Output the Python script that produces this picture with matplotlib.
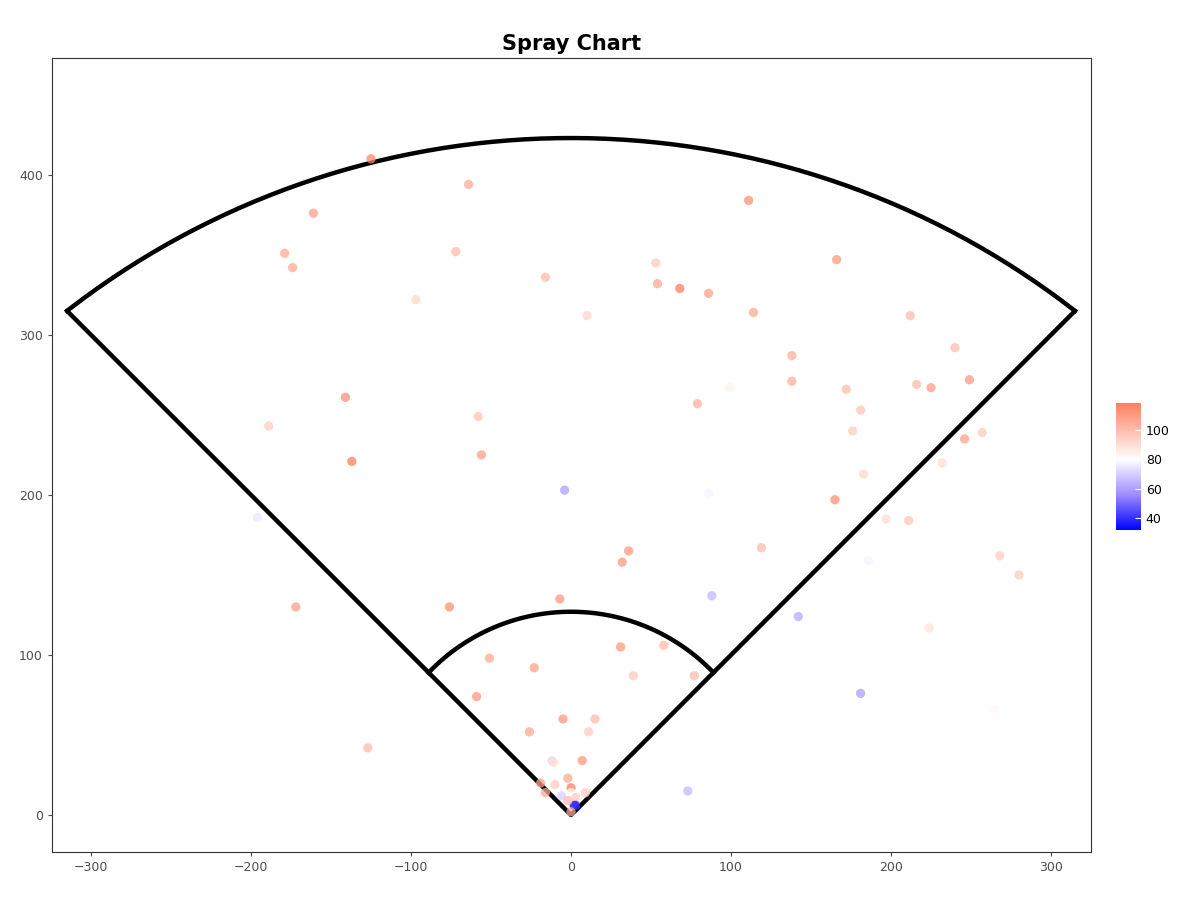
import numpy as np
import matplotlib.pyplot as plt
from matplotlib.colors import LinearSegmentedColormap, Normalize

# hit coordinates (ft) and exit velocity
hc_x = [-125, -64, -161, -179, -174, -72, -97, -16, 10, 53, 54, 68, 86, 111, 166, 114,
        212, 240, 138, 138, 216, 225, 249, 172, 99, 79, 181, 176, 246, 257, 183, 232,
        -141, -189, -58, -56, -137, -4, 86, -196, 165, 197, 211, 36, 32, 119, 268, 280,
        186, -7, -172, -76, 88, 142, 224, -51, 31, 58, -23, 39, 77, 181, -59, -127,
        -26, -5, 15, 11, 265, 7, 73,
        -12, -11, -19, -10, -16, -2, 0, -6, 0, 3, 9, 2, 3, -2, 0]
hc_y = [410, 394, 376, 351, 342, 352, 322, 336, 312, 345, 332, 329, 326, 384, 347, 314,
        312, 292, 287, 271, 269, 267, 272, 266, 267, 257, 253, 240, 235, 239, 213, 220,
        261, 243, 249, 225, 221, 203, 201, 186, 197, 185, 184, 165, 158, 167, 162, 150,
        159, 135, 130, 130, 137, 124, 117, 98, 105, 106, 92, 87, 87, 76, 74, 42,
        52, 60, 60, 52, 66, 34, 15,
        34, 33, 20, 19, 14, 23, 17, 12, 14, 11, 14, 6, 6, 9, 2]
launch_speed = [115, 105, 108, 105, 105, 100, 92, 100, 92, 95, 105, 118, 108, 112, 110, 105,
                100, 100, 103, 103, 100, 108, 110, 100, 84, 103, 97, 95, 108, 95, 92, 90,
                112, 95, 97, 108, 118, 60, 78, 75, 112, 90, 97, 110, 110, 100, 95, 95,
                78, 110, 108, 112, 65, 62, 88, 105, 110, 100, 108, 95, 100, 60, 110, 100,
                105, 110, 100, 95, 82, 110, 65,
                72, 90, 108, 95, 105, 105, 118, 70, 80, 95, 95, 35, 40, 100, 105]

vmin, vmid, vmax = 32, 80, 118
m = (vmid - vmin) / (vmax - vmin)
cmap = LinearSegmentedColormap.from_list(
    "ev", [(0, "#0000FF"), (m * 0.5, "#9F8CFF"), (m, "#FFFFFF"), (1, "#FF7F5F")])
norm = Normalize(vmin=vmin, vmax=vmax)

fig = plt.figure(figsize=(12, 8.97), dpi=100)
ax = fig.add_axes([52 / 1200, 1 - 852 / 897, 1039 / 1200, 794 / 897])

# field outline
ax.plot([-315, 0, 315], [315, 0, 315], color="black", lw=3.2, solid_capstyle="round")
c_out, r_out = -90.4, np.hypot(315, 315 + 90.4)
a0 = np.arctan2(315 - c_out, 315)
t = np.linspace(a0, np.pi - a0, 200)
ax.plot(r_out * np.cos(t), c_out + r_out * np.sin(t), color="black", lw=3.2)
c_in, r_in = 3.8, np.hypot(89, 89 - 3.8)
a1 = np.arctan2(89 - c_in, 89)
t = np.linspace(a1, np.pi - a1, 100)
ax.plot(r_in * np.cos(t), c_in + r_in * np.sin(t), color="black", lw=3.2)

sc = ax.scatter(hc_x, hc_y, c=launch_speed, cmap=cmap, norm=norm, s=45, alpha=0.75,
                edgecolors="none", zorder=3)

ax.set_xlim(-324.4, 325)
ax.set_ylim(-23.1, 473)
ax.set_xticks([-300, -200, -100, 0, 100, 200, 300])
ax.set_yticks([0, 100, 200, 300, 400])
ax.tick_params(labelsize=9, colors="#4d4d4d", length=3)
for s in ax.spines.values():
    s.set_color("#333333")
    s.set_linewidth(0.8)
ax.set_title("Spray Chart", fontsize=15, fontweight="bold", pad=6)

cax = fig.add_axes([1116 / 1200, 1 - 530 / 897, 25 / 1200, 127 / 897])
cb = fig.colorbar(sc, cax=cax, ticks=[40, 60, 80, 100])
cb.solids.set_alpha(1)
cb.outline.set_visible(False)
cax.tick_params(labelsize=9, length=4, direction="in", color="white")

fig.savefig("out.png", dpi=100)
